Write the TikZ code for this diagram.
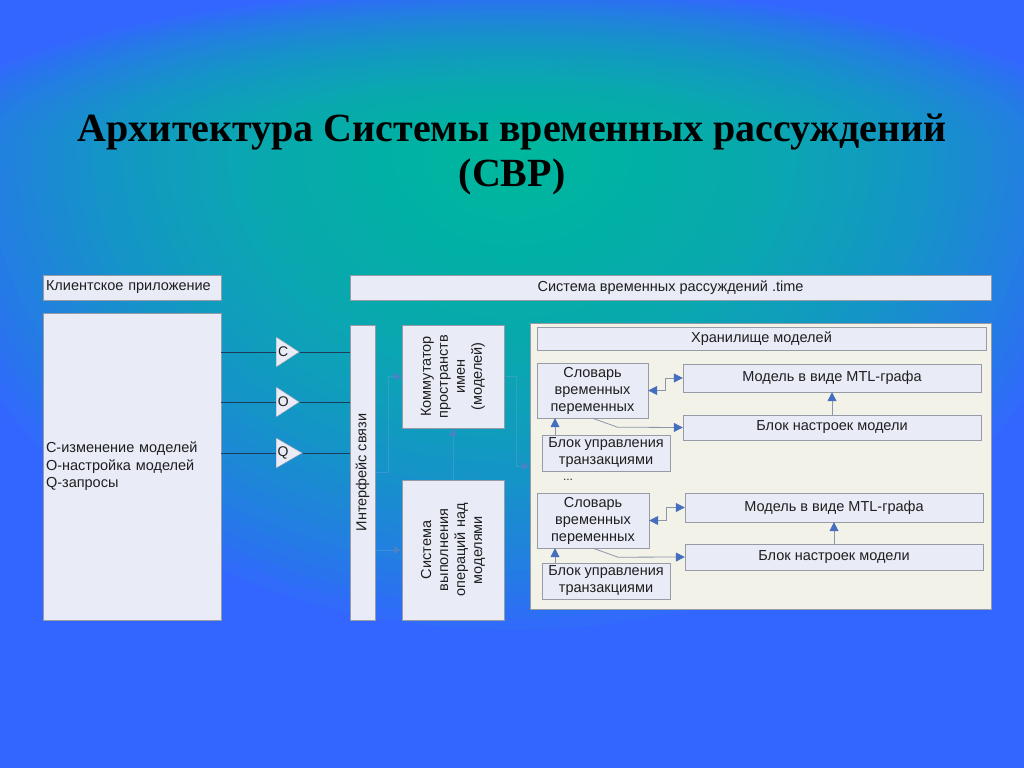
\documentclass[tikz,border=0pt]{standalone}
\usepackage{fontspec}
\setmainfont{Liberation Serif}
\newfontfamily\arialfont{Liberation Sans}
\usetikzlibrary{shapes.geometric,arrows.meta,positioning}

\definecolor{bgblue}{RGB}{51,102,255}
\definecolor{glowgreen}{RGB}{0,204,153}
\definecolor{boxfill}{RGB}{233,236,247}
\definecolor{storefill}{RGB}{242,242,232}
\definecolor{boxline}{RGB}{150,155,165}
\definecolor{wire}{RGB}{30,60,90}
\definecolor{thinwire}{RGB}{140,150,170}
\definecolor{tipblue}{RGB}{70,110,190}
\definecolor{faintwire}{RGB}{80,160,210}

\begin{document}
\begin{tikzpicture}[x=1pt,y=-1pt,
    blk/.style={draw=boxline, fill=boxfill, inner sep=2pt, text=black!88,
      font=\arialfont\fontsize{14.5}{17}\selectfont, align=center},
    tri/.style={draw=boxline, fill=boxfill, shape=isosceles triangle,
      isosceles triangle stretches, inner sep=0pt, minimum width=30, minimum height=23,
      anchor=west, text=black!88, font=\arialfont\fontsize{14}{16}\selectfont},
    wire/.style={draw=wire, line width=0.9pt},
    link/.style={draw=thinwire, line width=0.8pt, >={Triangle[width=9pt,length=9pt]},
      arrows={[color=tipblue]}},
    faint/.style={draw=faintwire, draw opacity=0.55, line width=0.8pt,
      >={Triangle[width=8pt,length=8pt]}, arrows={[color=tipblue!60!faintwire]}},
    glow/.style={fill=glowgreen, fill opacity=0.05}]
\useasboundingbox (0,0) rectangle (1024,768);

% background
\fill[bgblue] (0,0) rectangle (1024,768);
\begin{scope}
  \clip (0,0) rectangle (1024,768);
  \foreach \k in {0,...,39}
    \fill[glow] (512,150) ++({-600*(1-\k/40)},0)
      arc[start angle=180, end angle=0, x radius={600*(1-\k/40)}, y radius={480*(1-\k/40)}]
      arc[start angle=0, end angle=-180, x radius={600*(1-\k/40)}, y radius={160*(1-\k/40)}]
      -- cycle;
\end{scope}

% title
\node[font=\bfseries\fontsize{40}{45}\selectfont, align=center] (title) at (512,154)
  {Архитектура Системы временных рассуждений\\(СВР)};

% top bars
\node[blk, minimum width=178, minimum height=25, text width=172, align=left] (app) at (132,287.5) {Клиентское приложение};
\node[blk, minimum width=641, minimum height=25] (sys) at (670.5,287.5) {Система временных рассуждений .time};

% client
\node[blk, minimum width=178, minimum height=307, text width=172, align=left,
  font=\arialfont\fontsize{14.5}{17.5}\selectfont] (client) at (132,466.5)
  {C-изменение моделей\\O-настройка моделей\\Q-запросы};

% interface and middle blocks
\node[blk, rotate=90, minimum width=295, minimum height=25] (iface) at (362.5,472.5) {Интерфейс связи};
\node[blk, rotate=90, minimum width=103, minimum height=102] (comm) at (453,376.5)
  {Коммутатор\\пространств\\имен\\(моделей)};
\node[blk, rotate=90, minimum width=140, minimum height=102] (exec) at (453,550)
  {Система\\выполнения\\операций над\\моделями};

% C / O / Q
\foreach \n/\y in {C/352,O/402,Q/453} {
  \node[tri] (\n) at (276,\y) {\n};
  \draw[wire] (client.east |- \n.west) -- (\n.west);
  \draw[wire] (\n.apex) -- (\n.apex -| iface.north);
}

% storage
\node[blk, fill=storefill, minimum width=461, minimum height=286] (store) at (760.5,466) {};
\node[blk, minimum width=449, minimum height=23] (head) at (761.5,338.5) {Хранилище моделей};

\node[blk, minimum width=111, minimum height=55] (dict1) at (592.5,390.5) {Словарь\\временных\\переменных};
\node[blk, minimum width=128, minimum height=36] (tx1) at (606,453) {Блок управления\\транзакциями};
\node[blk, minimum width=298, minimum height=28] (mtl1) at (832,378) {Модель в виде MTL-графа};
\node[blk, minimum width=298, minimum height=25] (cfg1) at (832,427.5) {Блок настроек модели};

\node[font=\arialfont\fontsize{12}{14}\selectfont, text=black!85] (dots) at (568,480) {...};

\node[blk, minimum width=112, minimum height=55] (dict2) at (593,520.5) {Словарь\\временных\\переменных};
\node[blk, minimum width=128, minimum height=36] (tx2) at (606,581) {Блок управления\\транзакциями};
\node[blk, minimum width=298, minimum height=29] (mtl2) at (834,507.5) {Модель в виде MTL-графа};
\node[blk, minimum width=298, minimum height=26] (cfg2) at (834,557) {Блок настроек модели};

% faint links between blocks (rotated nodes: north = left side, south = right side)
\draw[faint,->] (iface.south) -- ++(13,0) |- (comm.north);
\draw[faint,->] (iface.south |- exec.north) -- (exec.north);
\draw[faint,->] (exec.east) -- (comm.west);
\draw[faint,->] (comm.south) -- ++(12,0) |- (store.west);

% links inside storage
\foreach \i in {1,2} {
  \draw[link,<->] (dict\i.east) -- ++(17,0) |- (mtl\i.west);
  \draw[link,->] (cfg\i.north) -- (mtl\i.south);
  \draw[link,->] (dict\i.south) -- ++(25,9) -- (cfg\i.west);
  \draw[link,->] ([xshift=-51]tx\i.north) -- ([xshift=-51]tx\i.north |- dict\i.south);
}
\end{tikzpicture}
\end{document}
